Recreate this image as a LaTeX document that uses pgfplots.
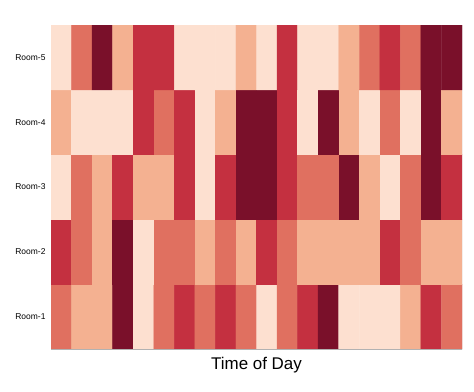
\documentclass[border=0pt]{standalone}
\usepackage{pgfplots}
\pgfplotsset{compat=1.18}
\usepackage{fontspec}
\setmainfont{Liberation Sans}
\definecolor{c0}{HTML}{FDE0D0}
\definecolor{c1}{HTML}{F4B191}
\definecolor{c2}{HTML}{E07060}
\definecolor{c3}{HTML}{C43040}
\definecolor{c4}{HTML}{7A102A}
\begin{document}
\begin{tikzpicture}[x=1bp,y=1bp]
\useasboundingbox (0,0) rectangle (474,391);
\begin{axis}[
  at={(51bp,42bp)}, anchor=south west,
  width=411bp, height=324bp, scale only axis,
  xmin=-0.5, xmax=19.5, ymin=0.5, ymax=5.5,
  axis line style={draw=none},
  xtick=\empty,
  ytick={1,2,3,4,5},
  yticklabels={Room-1,Room-2,Room-3,Room-4,Room-5},
  major tick length=0pt,
  yticklabel style={font=\fontsize{8.5}{10}\selectfont, xshift=-2bp},
  xlabel={Time of Day},
  xlabel style={font=\fontsize{17}{20}\selectfont, at={(axis description cs:0.5,0)}, anchor=base, yshift=-20bp},
  colormap={heat}{color=(c0) color=(c1) color=(c2) color=(c3) color=(c4)},
  colormap access=direct,
]
\addplot[matrix plot*, mesh/cols=20, point meta=explicit] table[meta=c] {
x y c
0 1 2
1 1 1
2 1 1
3 1 4
4 1 0
5 1 2
6 1 3
7 1 2
8 1 3
9 1 2
10 1 0
11 1 2
12 1 3
13 1 4
14 1 0
15 1 0
16 1 0
17 1 1
18 1 3
19 1 2
0 2 3
1 2 2
2 2 1
3 2 4
4 2 0
5 2 2
6 2 2
7 2 1
8 2 2
9 2 1
10 2 3
11 2 2
12 2 1
13 2 1
14 2 1
15 2 1
16 2 3
17 2 2
18 2 1
19 2 1
0 3 0
1 3 2
2 3 1
3 3 3
4 3 1
5 3 1
6 3 3
7 3 0
8 3 3
9 3 4
10 3 4
11 3 3
12 3 2
13 3 2
14 3 4
15 3 1
16 3 0
17 3 2
18 3 4
19 3 3
0 4 1
1 4 0
2 4 0
3 4 0
4 4 3
5 4 2
6 4 3
7 4 0
8 4 1
9 4 4
10 4 4
11 4 3
12 4 0
13 4 4
14 4 1
15 4 0
16 4 2
17 4 0
18 4 4
19 4 1
0 5 0
1 5 2
2 5 4
3 5 1
4 5 3
5 5 3
6 5 0
7 5 0
8 5 0
9 5 1
10 5 0
11 5 3
12 5 0
13 5 0
14 5 1
15 5 2
16 5 3
17 5 2
18 5 4
19 5 4
};
\draw[gray!60, line width=0.8bp] (rel axis cs:0,0) -- (rel axis cs:1,0) -- (rel axis cs:1,1);
\end{axis}
\end{tikzpicture}
\end{document}
